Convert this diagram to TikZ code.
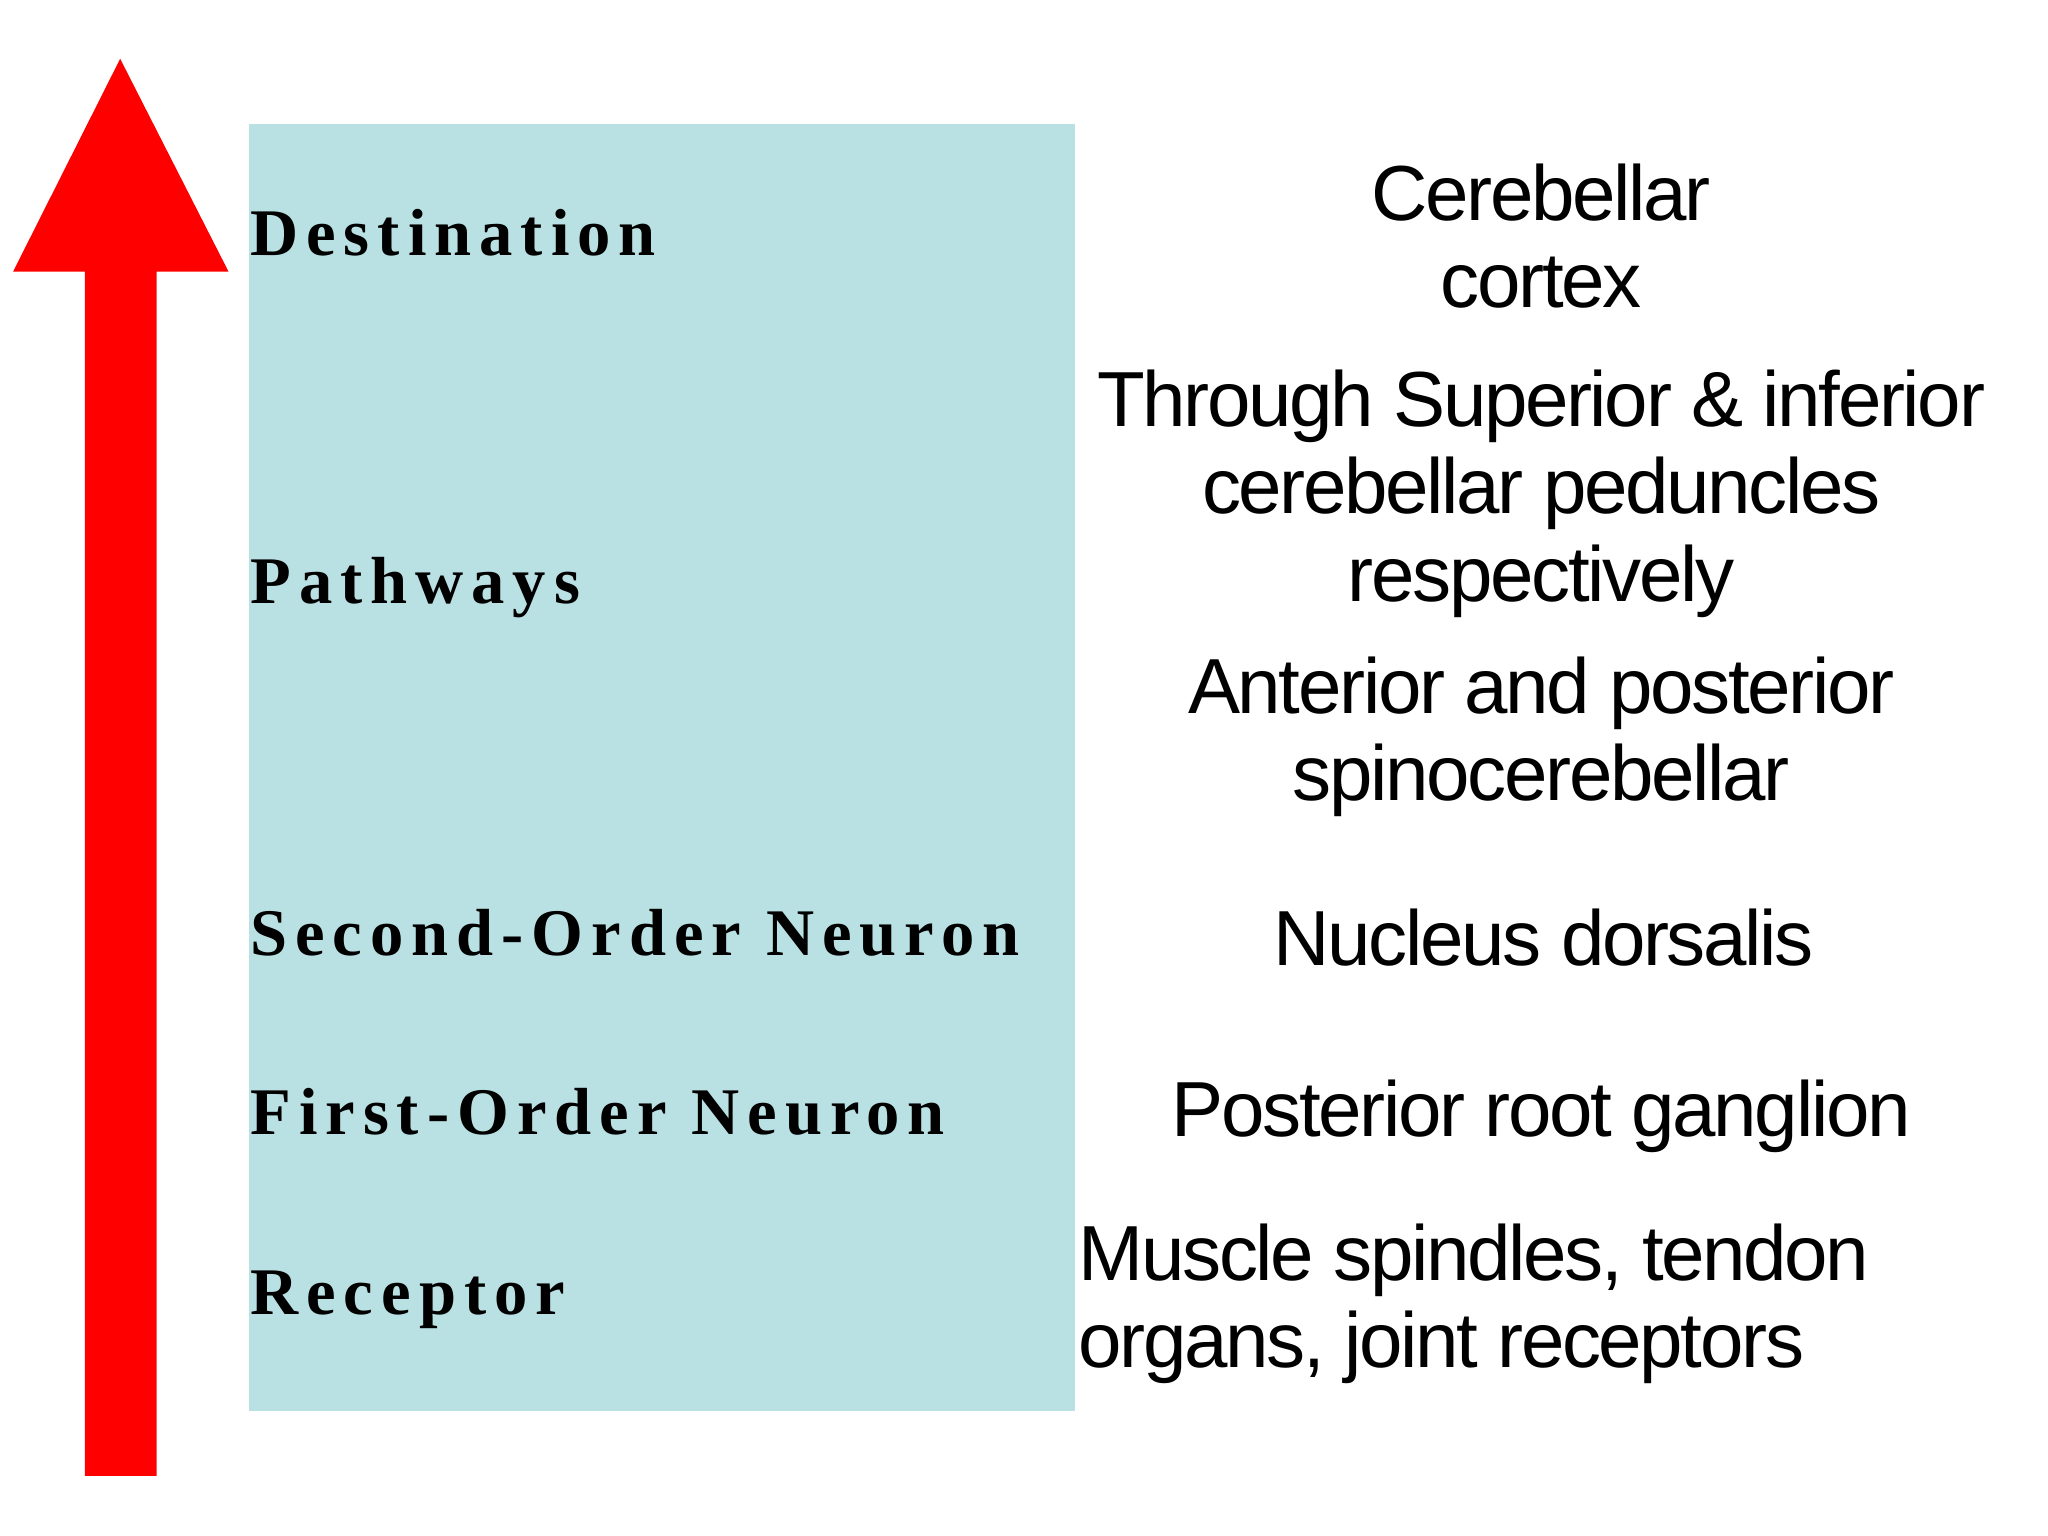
\documentclass[tikz,border=0pt]{standalone}
\usepackage{fontspec}
\setmainfont{Liberation Sans}
\newfontfamily\lblfont[LetterSpace=12]{Liberation Serif}
\begin{document}
\begin{tikzpicture}[x=0.01cm,y=-0.01cm,
  rt/.style={font=\fontsize{17}{19}\selectfont\addfontfeature{LetterSpace=-3}, align=center},
  lt/.style={font=\lblfont\bfseries\fontsize{14.5}{16}\selectfont, anchor=west, inner sep=0pt}]
\useasboundingbox (0,0) rectangle (1568,1176);
\fill[white] (0,0) rectangle (1568,1176);
\fill[red] (92,45) -- (175,208) -- (120,208) -- (120,1130) -- (65,1130) -- (65,208) -- (10,208) -- cycle;
\fill[fill={rgb,255:red,185;green,225;blue,227}] (191,95) rectangle (823,1080);
\node[lt] (d) at (191,178) {Destination};
\node[lt] (p) at (191,450) {Pathways};
\node[lt] (s) at (191,714) {Second-Order Neuron};
\node[lt] (f) at (191,851) {First-Order Neuron};
\node[lt] (r) at (191,995) {Receptor};
\node[rt] (t1) at (1180,181) {Cerebellar\\cortex};
\node[rt] (t2) at (1180,378) {Through Superior \& inferior\\cerebellar peduncles\\respectively};
\node[rt] (t3) at (1180,564) {Anterior and posterior\\spinocerebellar};
\node[rt] (t4) at (1182,718) {Nucleus dorsalis};
\node[rt] (t5) at (1180,855) {Posterior root ganglion};
\node[rt, align=left, anchor=west, inner sep=0] (t6) at (825,998) {Muscle spindles, tendon\\organs, joint receptors};
\end{tikzpicture}
\end{document}
